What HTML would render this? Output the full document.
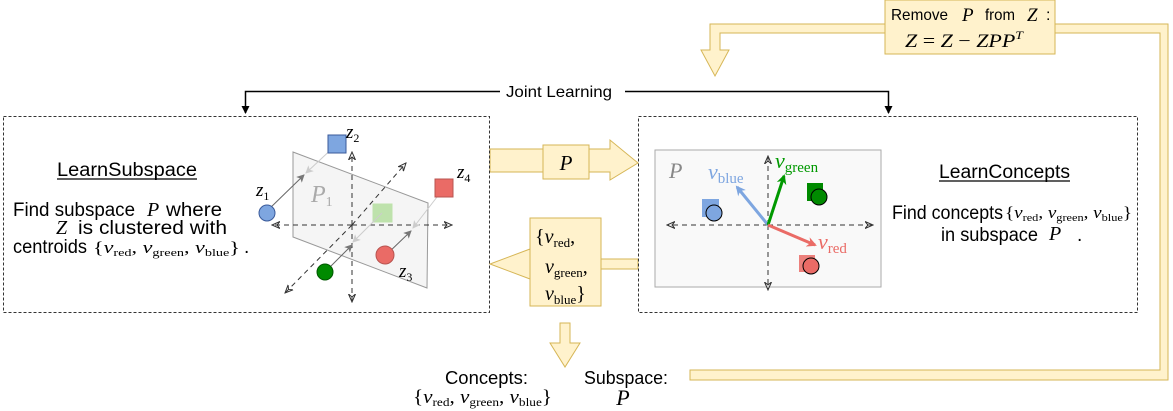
<!DOCTYPE html>
<html><head><meta charset="utf-8"><style>
body{margin:0;background:#fff}
svg{display:block}
.s{font-family:"Liberation Sans",sans-serif;fill:#000}
.m{font-family:"Liberation Serif","DejaVu Serif",serif;font-style:italic;fill:#000}
.r{font-style:normal}
</style></head><body>
<svg width="1173" height="411" viewBox="0 0 1173 411" xmlns="http://www.w3.org/2000/svg">
<defs>
<marker id="ab" markerWidth="8" markerHeight="8" refX="7" refY="4" orient="auto" markerUnits="userSpaceOnUse"><path d="M0,0 L8,4 L0,8 Z" fill="#000"/></marker>
<marker id="ao" markerWidth="9" markerHeight="8" refX="8" refY="4" orient="auto" markerUnits="userSpaceOnUse"><path d="M0,0.5 L8,4 L0,7.5 L3,4 Z" fill="none" stroke="#333" stroke-width="1"/></marker>
<marker id="ag" markerWidth="8" markerHeight="8" refX="7" refY="4" orient="auto" markerUnits="userSpaceOnUse"><path d="M0,0 L8,4 L0,8 L2,4 Z" fill="#777"/></marker>
<marker id="al" markerWidth="8" markerHeight="8" refX="7" refY="4" orient="auto" markerUnits="userSpaceOnUse"><path d="M0,0 L8,4 L0,8 L2,4 Z" fill="#ccc"/></marker>
<marker id="mb" markerWidth="10" markerHeight="10" refX="8" refY="5" orient="auto" markerUnits="userSpaceOnUse"><path d="M0,0 L10,5 L0,10 L3,5 Z" fill="#7ea6e0"/></marker>
<marker id="mg" markerWidth="10" markerHeight="10" refX="8" refY="5" orient="auto" markerUnits="userSpaceOnUse"><path d="M0,0 L10,5 L0,10 L3,5 Z" fill="#009900"/></marker>
<marker id="mr" markerWidth="10" markerHeight="10" refX="8" refY="5" orient="auto" markerUnits="userSpaceOnUse"><path d="M0,0 L10,5 L0,10 L3,5 Z" fill="#ea6b66"/></marker>
</defs>

<g fill="#fff2cc" stroke="#d6b656" stroke-width="1">
<path d="M886,24 L710,24 L710,50 L701,50 L715,76 L729,50 L720,50 L720,33 L886,33 Z"/>
<path d="M1054,24 L1168,24 L1168,380 L690,380 L690,370 L1160,370 L1160,33 L1054,33 Z"/>
<path d="M490,149 L610,149 L610,140 L638,163 L610,180 L610,172 L490,172 Z"/>
<path d="M638,259 L530,259 L530,249 L490,264 L530,279 L530,269 L638,269 Z"/>
<path d="M560,323 L570,323 L570,343 L580,343 L565,367 L550,343 L560,343 Z"/>
</g>
<rect x="885" y="0" width="170" height="54" fill="#fff2cc" stroke="#d6b656"/>
<rect x="543" y="145" width="46" height="34" fill="#fff2cc" stroke="#d6b656"/>
<rect x="530" y="218" width="71" height="88" fill="#fff2cc" stroke="#d6b656"/>

<rect x="3.5" y="116.5" width="486" height="196" fill="none" stroke="#333" stroke-dasharray="3,2"/>
<rect x="638.5" y="116.5" width="499" height="196" fill="none" stroke="#333" stroke-dasharray="3,2"/>

<path d="M500,91.5 L245.5,91.5 L245.5,113" fill="none" stroke="#000" stroke-width="1.5" marker-end="url(#ab)"/>
<path d="M625,91.5 L888.5,91.5 L888.5,113" fill="none" stroke="#000" stroke-width="1.5" marker-end="url(#ab)"/>
<text x="506" y="97" class="s" font-size="16" textLength="106" lengthAdjust="spacingAndGlyphs">Joint Learning</text>

<text x="891" y="20" class="s" font-size="16" textLength="57" lengthAdjust="spacingAndGlyphs">Remove</text>
<text x="962" y="21" class="m" font-size="19">P</text>
<text x="985" y="20" class="s" font-size="16" textLength="30" lengthAdjust="spacingAndGlyphs">from</text>
<text x="1027" y="21" class="m" font-size="19">Z</text>
<text x="1046" y="20" class="s" font-size="16">:</text>
<text x="905" y="47" class="m" font-size="19" textLength="118" lengthAdjust="spacingAndGlyphs">Z <tspan class="r">=</tspan> Z <tspan class="r">−</tspan> ZPP<tspan font-size="12" dy="-8">T</tspan></text>

<text x="566" y="170" class="m" font-size="21" text-anchor="middle">P</text>
<text x="535" y="243" class="m" font-size="20"><tspan class="r">{</tspan>v<tspan class="r" font-size="13" dy="4">red</tspan><tspan dy="-4" class="r">,</tspan></text>
<text x="545" y="273" class="m" font-size="20">v<tspan class="r" font-size="13" dy="4">green</tspan><tspan dy="-4" class="r">,</tspan></text>
<text x="545" y="300" class="m" font-size="20">v<tspan class="r" font-size="13" dy="4">blue</tspan><tspan dy="-4" class="r">}</tspan></text>

<text x="445" y="384" class="s" font-size="18" textLength="83" lengthAdjust="spacingAndGlyphs">Concepts:</text>
<text x="413" y="403" class="m" font-size="19" textLength="139" lengthAdjust="spacingAndGlyphs"><tspan class="r">{</tspan>v<tspan class="r" font-size="12" dy="3">red</tspan><tspan class="r" dy="-3">, </tspan>v<tspan class="r" font-size="12" dy="3">green</tspan><tspan class="r" dy="-3">, </tspan>v<tspan class="r" font-size="12" dy="3">blue</tspan><tspan class="r" dy="-3">}</tspan></text>
<text x="584" y="384" class="s" font-size="18" textLength="84" lengthAdjust="spacingAndGlyphs">Subspace:</text>
<text x="623" y="405" class="m" font-size="22" text-anchor="middle">P</text>

<text x="57" y="176" class="s" font-size="19" textLength="140" lengthAdjust="spacingAndGlyphs">LearnSubspace</text>
<line x1="57" y1="179" x2="197" y2="179" stroke="#000" stroke-width="1.2"/>
<text x="13" y="216" class="s" font-size="19" textLength="122" lengthAdjust="spacingAndGlyphs">Find subspace</text>
<text x="147" y="216" class="m" font-size="20">P</text>
<text x="166" y="216" class="s" font-size="19" textLength="56" lengthAdjust="spacingAndGlyphs">where</text>
<text x="56" y="234" class="m" font-size="20">Z</text>
<text x="78" y="234" class="s" font-size="19" textLength="149" lengthAdjust="spacingAndGlyphs">is clustered with</text>
<text x="13" y="253" class="s" font-size="19" textLength="74" lengthAdjust="spacingAndGlyphs">centroids</text>
<text x="93" y="253" class="m" font-size="17" textLength="147" lengthAdjust="spacingAndGlyphs"><tspan class="r">{</tspan>v<tspan class="r" font-size="11" dy="3">red</tspan><tspan class="r" dy="-3">, </tspan>v<tspan class="r" font-size="11" dy="3">green</tspan><tspan class="r" dy="-3">, </tspan>v<tspan class="r" font-size="11" dy="3">blue</tspan><tspan class="r" dy="-3">}</tspan></text>
<text x="244" y="253" class="s" font-size="19">.</text>

<text x="939" y="178" class="s" font-size="19" textLength="131" lengthAdjust="spacingAndGlyphs">LearnConcepts</text>
<line x1="939" y1="181" x2="1070" y2="181" stroke="#000" stroke-width="1.2"/>
<text x="892" y="219" class="s" font-size="19" textLength="111" lengthAdjust="spacingAndGlyphs">Find concepts</text>
<text x="1005" y="218" class="m" font-size="17" textLength="127" lengthAdjust="spacingAndGlyphs"><tspan class="r">{</tspan>v<tspan class="r" font-size="11" dy="3">red</tspan><tspan class="r" dy="-3">, </tspan>v<tspan class="r" font-size="11" dy="3">green</tspan><tspan class="r" dy="-3">, </tspan>v<tspan class="r" font-size="11" dy="3">blue</tspan><tspan class="r" dy="-3">}</tspan></text>
<text x="941" y="241" class="s" font-size="19" textLength="97" lengthAdjust="spacingAndGlyphs">in subspace</text>
<text x="1049" y="240" class="m" font-size="20">P</text>
<text x="1077" y="241" class="s" font-size="19">.</text>

<polygon points="293,152 428,203 427,288 293,237" fill="#f5f5f5" stroke="#999"/>
<g stroke="#333" stroke-width="1" stroke-dasharray="5,4" fill="none">
<line x1="352" y1="225" x2="352" y2="152" marker-end="url(#ao)"/>
<line x1="352" y1="225" x2="352" y2="302" marker-end="url(#ao)"/>
<line x1="352" y1="225" x2="272" y2="225" marker-end="url(#ao)"/>
<line x1="352" y1="225" x2="452" y2="225" marker-end="url(#ao)"/>
<line x1="352" y1="225" x2="406" y2="163" marker-end="url(#ao)"/>
<line x1="352" y1="225" x2="285" y2="293" marker-end="url(#ao)"/>
</g>
<text x="311" y="202" class="m" font-size="24" style="fill:#aaa">P<tspan class="r" font-size="14" dy="4">1</tspan></text>
<rect x="373" y="204" width="19" height="18" fill="#b9e0a5" stroke="#b9e0a5" opacity="0.9"/>
<g stroke-width="1">
<line x1="267" y1="211" x2="304" y2="175" stroke="#666" marker-end="url(#ag)"/>
<line x1="337" y1="144" x2="306" y2="173" stroke="#ccc" marker-end="url(#al)"/>
<line x1="325" y1="272" x2="352" y2="245" stroke="#666" marker-end="url(#ag)"/>
<line x1="382" y1="213" x2="353" y2="242" stroke="#ccc" marker-end="url(#al)"/>
<line x1="386" y1="255" x2="411" y2="231" stroke="#666" marker-end="url(#ag)"/>
<line x1="444" y1="188" x2="413" y2="228" stroke="#ccc" marker-end="url(#al)"/>
</g>
<circle cx="267" cy="213" r="8" fill="#7ea6e0" stroke="#3a5a9a"/>
<rect x="328" y="135" width="18" height="18" fill="#7ea6e0" stroke="#3a5a9a"/>
<circle cx="325" cy="272" r="8" fill="#008a00" stroke="#005700"/>
<circle cx="385" cy="255" r="9" fill="#ea6b66" stroke="#b85450"/>
<rect x="435" y="179" width="18" height="18" fill="#ea6b66" stroke="#b85450"/>
<text x="256" y="196" class="m" font-size="19">z<tspan class="r" font-size="12" dy="4">1</tspan></text>
<text x="346" y="138" class="m" font-size="19">z<tspan class="r" font-size="12" dy="4">2</tspan></text>
<text x="399" y="277" class="m" font-size="19">z<tspan class="r" font-size="12" dy="4">3</tspan></text>
<text x="457" y="178" class="m" font-size="19">z<tspan class="r" font-size="12" dy="4">4</tspan></text>

<rect x="655" y="150" width="226" height="137" fill="#f9f9f9" stroke="#aaa"/>
<g stroke="#333" stroke-width="1" stroke-dasharray="5,4" fill="none">
<line x1="768" y1="225" x2="768" y2="156" marker-end="url(#ao)"/>
<line x1="768" y1="225" x2="768" y2="290" marker-end="url(#ao)"/>
<line x1="768" y1="225" x2="667" y2="225" marker-end="url(#ao)"/>
<line x1="768" y1="225" x2="873" y2="225" marker-end="url(#ao)"/>
</g>
<text x="669" y="178" class="m" font-size="22" style="fill:#888">P</text>
<rect x="702" y="199" width="17" height="18" fill="#7ea6e0"/>
<circle cx="714" cy="213" r="8" fill="#7ea6e0" stroke="#000"/>
<rect x="807" y="183" width="16" height="18" fill="#008a00"/>
<circle cx="819" cy="197" r="8" fill="#008a00" stroke="#000"/>
<rect x="799" y="255" width="16" height="17" fill="#ea6b66" opacity="0.85"/>
<circle cx="811" cy="266" r="8" fill="#ea6b66" stroke="#000"/>
<line x1="768" y1="225" x2="737" y2="187" stroke="#7ea6e0" stroke-width="3" marker-end="url(#mb)"/>
<line x1="768" y1="225" x2="784" y2="176" stroke="#009900" stroke-width="3" marker-end="url(#mg)"/>
<line x1="768" y1="225" x2="815" y2="245" stroke="#ea6b66" stroke-width="3" marker-end="url(#mr)"/>
<text x="708" y="179" class="m" font-size="22" style="fill:#7ea6e0">v<tspan class="r" font-size="15" dy="4">blue</tspan></text>
<text x="775" y="168" class="m" font-size="22" style="fill:#009900">v<tspan class="r" font-size="15" dy="4">green</tspan></text>
<text x="818" y="249" class="m" font-size="22" style="fill:#ea6b66">v<tspan class="r" font-size="15" dy="4">red</tspan></text>
</svg>
</body></html>
